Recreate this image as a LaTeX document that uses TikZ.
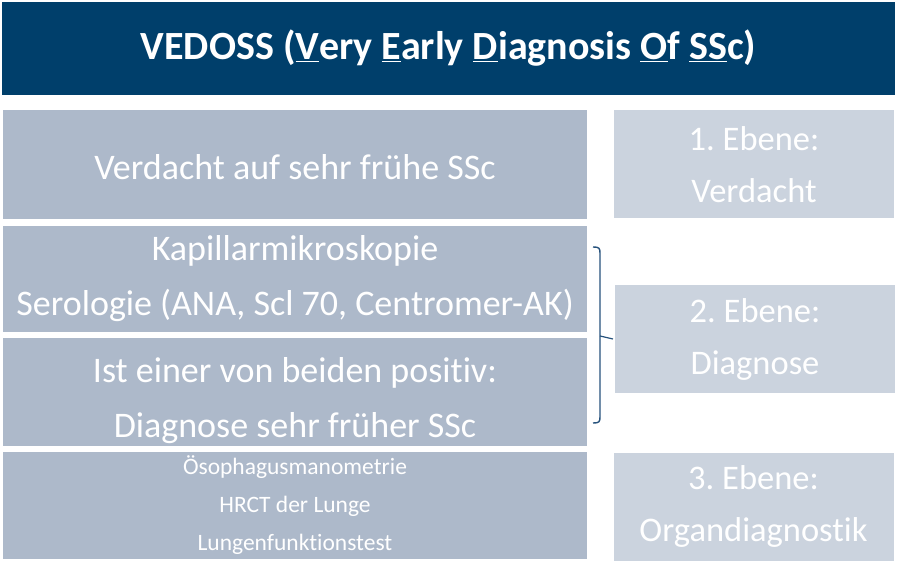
\documentclass[tikz,border=0pt]{standalone}
\usepackage{fontspec}
\setmainfont[Ligatures=NoCommon]{Carlito}
\usetikzlibrary{positioning}
\definecolor{vedossblue}{RGB}{0,63,107}
\definecolor{stepgrey}{RGB}{173,185,202}
\definecolor{levelgrey}{RGB}{203,211,222}
\definecolor{bracecol}{RGB}{38,82,124}
\tikzset{
  titlebox/.style={fill=vedossblue,text=white,inner sep=0pt,outer sep=0pt,minimum width=893pt,minimum height=93pt,font=\fontsize{40}{48}\selectfont\bfseries},
  stepbox/.style={fill=stepgrey,text=white,align=center,inner sep=0pt,outer sep=0pt,minimum width=584pt,font=\fontsize{36}{55}\selectfont},
  levelbox/.style={fill=levelgrey,text=white,align=center,inner sep=0pt,outer sep=0pt,minimum width=280pt,minimum height=108pt,font=\fontsize{34.5}{52}\selectfont},
}
\frenchspacing
\begin{document}
\begin{tikzpicture}[x=1pt,y=-1pt]
\useasboundingbox (0,0) rectangle (899,561);
% title
\node[titlebox] (title) at (448.5,48.5) {\raisebox{-3pt}{VEDOSS (\underline{V}ery \underline{E}arly \underline{D}iagnosis \underline{O}f \underline{SS}c)}};
% left column
\node[stepbox,minimum height=109pt] (suspect) at (295,164.5) {\rule{0pt}{30pt}Verdacht auf sehr frühe SSc};
\node[stepbox,minimum height=106pt] (capillary) at (295,279) {Kapillarmikroskopie\\Serologie (ANA, Scl 70, Centromer-AK)};
\node[stepbox,minimum height=108pt] (positive) at (295,392) {\rule{0pt}{42pt}Ist einer von beiden positiv:\\Diagnose sehr früher SSc};
\node[stepbox,minimum height=107pt,font=\fontsize{23.5}{38}\selectfont] (organ) at (295,505.5) {Ösophagusmanometrie\\HRCT der Lunge\\Lungenfunktionstest};
% right column
\node[levelbox] (level1) at (754,164.5) {1. Ebene:\\Verdacht};
\node[levelbox] (level2) at (755,339) {2. Ebene:\\Diagnose};
\node[levelbox] (level3) at (753.5,506.5) {3. Ebene:\\Organdiagnostik};
% brace
\draw[bracecol,line width=1.4pt] (593,247) .. controls (599,247) and (600,248) .. (600,253) -- (600,417) .. controls (600,422) and (599,423) .. (593,423);
\draw[bracecol,line width=1.2pt] (600,336) -- (level2.west -| 613,0);
\end{tikzpicture}
\end{document}
